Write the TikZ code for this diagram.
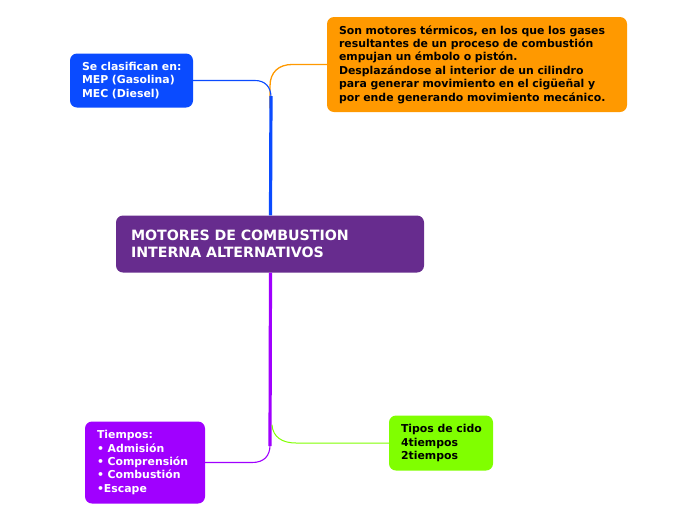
\documentclass[tikz,border=0pt]{standalone}
\usepackage{fontspec}
\setmainfont{DejaVu Sans}
\definecolor{cmain}{HTML}{672C8E}
\definecolor{cblue}{HTML}{0A4BFF}
\definecolor{corange}{HTML}{FF9900}
\definecolor{cpurple}{HTML}{A000FF}
\definecolor{cgreen}{HTML}{80FF00}
\begin{document}
\begin{tikzpicture}[x=1pt,y=-1pt,
  box/.style={rounded corners=7pt, inner xsep=12pt, inner ysep=0pt, align=left, anchor=center},
  small/.style={font=\bfseries\fontsize{10.9}{13.4}\selectfont},
  big/.style={font=\bfseries\fontsize{14.2}{17}\selectfont},
  link/.style={line cap=round}
]
\useasboundingbox (0,0) rectangle (696,520);
\coordinate (trunk) at (270.5,0);

\node[box, small, fill=corange, text=black, minimum width=300pt, text width=276pt, minimum height=95pt] (def) at (477,64.5)
 {\mbox{Son motores térmicos, en los que los gases}\\\mbox{resultantes de un proceso de combustión}\\\mbox{empujan un émbolo o pistón.}\\\mbox{Desplazándose al interior de un cilindro}\\\mbox{para generar movimiento en el cigüeñal y}\\\mbox{por ende generando movimiento mecánico.}};
\node[box, big, fill=cmain, text=white, inner xsep=15pt, minimum width=308pt, text width=278pt, minimum height=57pt] (center) at (270,244)
 {\mbox{MOTORES DE COMBUSTION}\\\mbox{INTERNA ALTERNATIVOS}};
\node[box, small, fill=cblue, text=white, minimum width=123pt, text width=99pt, minimum height=54pt] (clas) at (131.5,80.5)
 {\mbox{Se clasifican en:}\\\mbox{MEP (Gasolina)}\\\mbox{MEC (Diesel)}};
\node[box, small, fill=cpurple, text=white, minimum width=120pt, text width=96pt, minimum height=82pt] (tiem) at (145,462.5)
 {\mbox{Tiempos:}\\\mbox{• Admisión}\\\mbox{• Comprensión}\\\mbox{• Combustión}\\\mbox{•Escape}};
\node[box, small, fill=cgreen, text=black, minimum width=104pt, text width=80pt, minimum height=55pt] (tipos) at (441,443)
 {\mbox{Tipos de cido}\\\mbox{4tiempos}\\\mbox{2tiempos}};

% orange connector
\draw[link, corange, line width=1.3pt] (def.west |- 0,64.5) -- (292,64.5)
  .. controls (279,64.5) and (270,72) .. (270,86) -- (270,108);
% blue connector
\draw[link, cblue, line width=1.1pt] (clas.east) -- (255,80.5)
  .. controls (265,80.5) and (271,87) .. (271,97);
\draw[cblue, line width=3.2pt] (271,96) -- (trunk |- center.north);
% purple connector
\draw[cpurple, line width=3.2pt] (trunk |- center.south) -- (270,446);
\draw[link, cpurple, line width=1.1pt] (270,445)
  .. controls (270,456) and (264,462.5) .. (252,462.5) -- (tiem.east |- 0,462.5);
% green connector
\draw[link, cgreen, line width=1pt] (272,425)
  .. controls (273,437) and (282,443) .. (296,443) -- (tipos.west |- 0,443);
\end{tikzpicture}
\end{document}
